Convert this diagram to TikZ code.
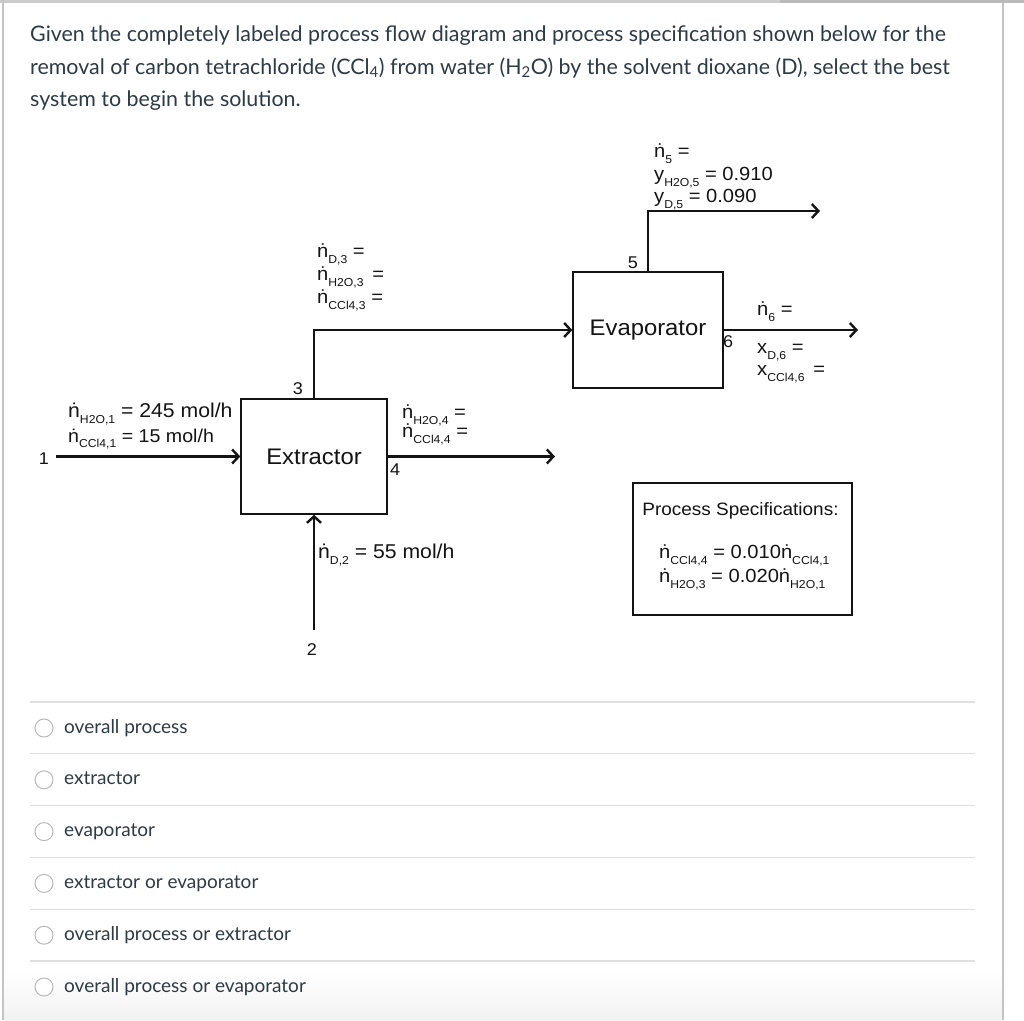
\documentclass[tikz,border=0pt]{standalone}
\usepackage{fontspec}
\setmainfont{Lato}
\newfontfamily\diag[FakeStretch=1.06]{Liberation Sans}
\usetikzlibrary{arrows.meta}
\definecolor{qtext}{HTML}{2D3B45}
\definecolor{dtext}{HTML}{141414}
\definecolor{sepline}{HTML}{E0E0E0}
\definecolor{radio}{HTML}{B8B8B8}
\definecolor{frame}{HTML}{C4C4C4}
\newcommand\sbs[1]{\raisebox{-0.32em}{\fontsize{11.5}{12}\selectfont #1}}
\tikzset{
  qline/.style={anchor=base west, inner sep=0, text=qtext, font=\fontsize{21.4}{22}\selectfont},
  opt/.style={anchor=base west, inner sep=0, text=qtext, font=\fontsize{19}{19}\selectfont},
  lbl/.style={anchor=base west, inner sep=0, text=dtext, font=\diag\fontsize{19}{19}\selectfont},
  num/.style={inner sep=0, text=dtext, font=\diag\fontsize{17}{17}\selectfont},
  unit/.style={draw=dtext, line width=1.4pt, inner sep=0, text=dtext, font=\diag\fontsize{22.5}{23}\selectfont},
  flow/.style={draw=dtext, line width=2.4pt, -{Straight Barb[length=6.5pt,width=14pt]}},
  sep/.style={draw=sepline, line width=1.2pt},
  rad/.style={draw=radio, line width=1pt, fill=white},
}
\begin{document}
\begin{tikzpicture}[x=1pt,y=-1pt]
\useasboundingbox (0,0) rectangle (1024,1020);
\fill[white] (0,0) rectangle (1024,1020);
% frame
\shade[top color=white, bottom color=black!5] (4,972) rectangle (1002,1020);
\fill[black!20] (0,0) rectangle (780,3);
\fill[black!27] (780,0) rectangle (1024,3);
\fill[frame] (2,0) rectangle (4,1020);
\fill[frame] (1002,3) rectangle (1004,1020);
% question
\node[qline] (q1) at (30,41) {Given the completely labeled process flow diagram and process specification shown below for the};
\node[qline] (q2) at (30,74) {removal of carbon tetrachloride (CCl\textsubscript{4}) from water (H\textsubscript{2}O) by the solvent dioxane (D), select the best};
\node[qline] (q3) at (30,106) {system to begin the solution.};
% units
\node[unit, minimum width=146pt, minimum height=115pt] (ext) at (314,456.5) {Extractor};
\node[unit, minimum width=150pt, minimum height=116pt] (evap) at (648,330) {Evaporator};
\node[draw=dtext, line width=1.2pt, minimum width=219pt, minimum height=132pt, inner sep=0] (spec) at (742.5,549) {};
% stream end points
\coordinate (s1) at (56,456.5);
\coordinate (s2) at (314,630);
\coordinate (s4) at (555,456.5);
\coordinate (s5) at (820,211);
\coordinate (s6) at (858,330);
% streams
\draw[flow] (s1) -- (ext.west);
\draw[flow] (s2) -- (ext.south);
\draw[flow] (ext.east) -- (s4);
\draw[flow] (ext.north) |- (evap.west);
\draw[flow] (evap.north) |- (s5);
\draw[flow] (evap.east) -- (s6);
% stream numbers
\node[num, anchor=base] (n1) at (44,464) {1};
\node[num, anchor=base] (n2) at (312,655) {2};
\node[num, anchor=base] (n3) at (298,394) {3};
\node[num, anchor=base west] (n4) at (390,475) {4};
\node[num, anchor=base] (n5) at (633,268) {5};
\node[num, anchor=base west] (n6) at (723,347) {6};
% stream 1
\node[lbl, font=\diag\fontsize{20}{20}\selectfont] (l1a) at (68,417) {ṅ\sbs{H2O,1} = 245 mol/h};
\node[lbl, font=\diag\fontsize{18.5}{19}\selectfont] (l1b) at (68,442) {ṅ\sbs{CCl4,1} = 15 mol/h};
% stream 2
\node[lbl, font=\diag\fontsize{20}{20}\selectfont] (l2) at (318,558) {ṅ\sbs{D,2} = 55 mol/h};
% stream 3
\node[lbl] (l3a) at (317,257) {ṅ\sbs{D,3} =};
\node[lbl] (l3b) at (317,280) {ṅ\sbs{H2O,3}\, =};
\node[lbl] (l3c) at (317,303) {ṅ\sbs{CCl4,3} =};
% stream 4
\node[lbl] (l4a) at (402,418) {ṅ\sbs{H2O,4} =};
\node[lbl] (l4b) at (402,437) {ṅ\sbs{CCl4,4} =};
% stream 5
\node[lbl] (l5a) at (654,157) {ṅ\sbs{5} =};
\node[lbl] (l5b) at (654,180) {y\sbs{H2O,5} = 0.910};
\node[lbl] (l5c) at (654,202) {y\sbs{D,5} = 0.090};
% stream 6
\node[lbl] (l6a) at (757,315) {ṅ\sbs{6} =};
\node[lbl] (l6b) at (757,353) {x\sbs{D,6} =};
\node[lbl] (l6c) at (757,375) {x\sbs{CCl4,6}\, =};
% specifications
\node[lbl, anchor=base, font=\diag\fontsize{17.9}{18}\selectfont] (spt) at (740.5,515) {Process Specifications:};
\node[lbl] (sp1) at (659,558) {ṅ\sbs{CCl4,4} = 0.010ṅ\sbs{CCl4,1}};
\node[lbl] (sp2) at (659,582) {ṅ\sbs{H2O,3} = 0.020ṅ\sbs{H2O,1}};
% options
\foreach \i/\t in {0/overall process, 1/extractor, 2/evaporator, 3/extractor or evaporator, 4/overall process or extractor, 5/overall process or evaporator}{
  \draw[sep] (30,{702+51.8*\i}) -- (975,{702+51.8*\i});
  \node[rad, circle, minimum size=18pt, inner sep=0] (r\i) at (44,{728+51.8*\i}) {};
  \node[opt] (o\i) at (64,{733+51.8*\i}) {\t};
}
\end{tikzpicture}
\end{document}
